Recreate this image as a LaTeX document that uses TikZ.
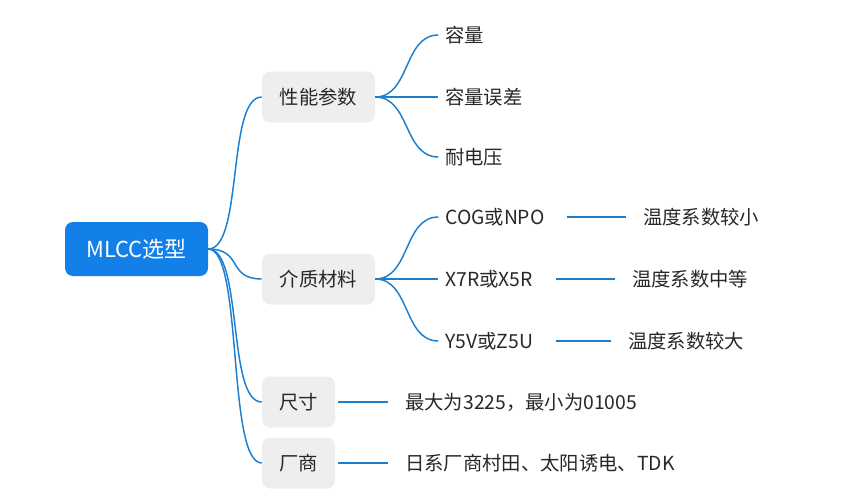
\documentclass[tikz,border=0pt]{standalone}
\usepackage{fontspec}
\setmainfont{Noto Sans CJK SC}
\begin{document}
\begin{tikzpicture}[x=0.75pt,y=-0.75pt,
  lk/.style={draw={rgb,255:red,26;green,127;blue,208},line width=1.1pt},
  root/.style={fill={rgb,255:red,18;green,128;blue,232},rounded corners=6pt,text=white,minimum width=143*0.75pt,minimum height=54*0.75pt,font=\fontsize{16.5}{18}\selectfont},
  cat/.style={fill={rgb,255:red,238;green,238;blue,238},rounded corners=6pt,minimum height=51*0.75pt,font=\fontsize{14.5}{16}\selectfont,text={rgb,255:red,40;green,40;blue,40}},
  leaf/.style={anchor=west,inner sep=0pt,font=\fontsize{14.5}{16}\selectfont,text={rgb,255:red,40;green,40;blue,40}}]
\useasboundingbox (0,0) rectangle (845,494);
\node[root] (r) at (136.5,249) {MLCC选型};
\node[cat,minimum width=113*0.75pt] (c1) at (318.5,97) {性能参数};
\node[cat,minimum width=113*0.75pt] (c2) at (318.5,279) {介质材料};
\node[cat,minimum width=73*0.75pt] (c3) at (298.5,402) {尺寸};
\node[cat,minimum width=73*0.75pt] (c4) at (298.5,463) {厂商};
\foreach \c in {c1,c2,c3,c4}
  \draw[lk] (r.east) .. controls +(35,0) and +(-35,0) .. (\c.west);
\node[leaf] (a1) at (445,35) {容量};
\node[leaf] (a2) at (445,97) {容量误差};
\node[leaf] (a3) at (445,157) {耐电压};
\foreach \c in {a1,a2,a3}
  \draw[lk] (c1.east) .. controls +(35,0) and +(-35,0) .. ([xshift=-5pt]\c.west);
\node[leaf] (b1) at (445,217) {COG或NPO};
\node[leaf] (b2) at (445,279) {X7R或X5R};
\node[leaf] (b3) at (445,341) {Y5V或Z5U};
\foreach \c in {b1,b2,b3}
  \draw[lk] (c2.east) .. controls +(35,0) and +(-35,0) .. ([xshift=-5pt]\c.west);
\node[leaf] (t1) at (643,217) {温度系数较小};
\node[leaf] (t2) at (632,279) {温度系数中等};
\node[leaf] (t3) at (628,341) {温度系数较大};
\draw[lk,shorten <=17pt,shorten >=13pt] (b1.east) -- (t1.west);
\draw[lk,shorten <=17pt,shorten >=13pt] (b2.east) -- (t2.west);
\draw[lk,shorten <=17pt,shorten >=13pt] (b3.east) -- (t3.west);
\node[leaf] (d1) at (405,402) {最大为3225，最小为01005};
\node[leaf] (e1) at (405,463) {日系厂商村田、太阳诱电、TDK};
\draw[lk,shorten <=2pt,shorten >=13pt] (c3.east) -- (d1.west);
\draw[lk,shorten <=2pt,shorten >=13pt] (c4.east) -- (e1.west);
\end{tikzpicture}
\end{document}
